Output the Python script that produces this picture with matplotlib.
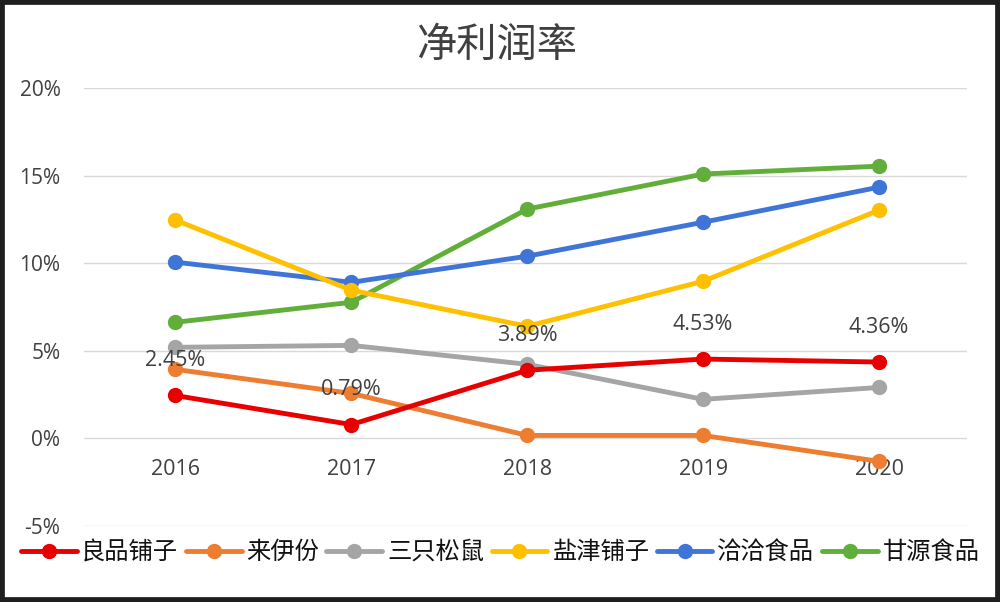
import matplotlib
matplotlib.use("Agg")
import matplotlib.pyplot as plt
from matplotlib.patches import Rectangle
from matplotlib.ticker import FuncFormatter

plt.rcParams['font.family'] = ['Noto Sans CJK SC', 'DejaVu Sans']

years = ['2016', '2017', '2018', '2019', '2020']
series_names = ['良品铺子', '来伊份', '三只松鼠', '盐津铺子', '洽洽食品', '甘源食品']
liangpin = [2.45, 0.79, 3.89, 4.53, 4.36]
laiyifen = [3.94, 2.57, 0.17, 0.17, -1.31]
sanzhi = [5.20, 5.31, 4.23, 2.23, 2.91]
yanjin = [12.46, 8.46, 6.40, 8.97, 13.03]
qiaqia = [10.06, 8.91, 10.40, 12.34, 14.34]
ganyuan = [6.63, 7.77, 13.09, 15.09, 15.54]
colors = ['#E60000', '#ED7D31', '#A5A5A5', '#FFC000', '#3F75D6', '#62AE3A']
label_values = liangpin

fig = plt.figure(figsize=(10, 6.02), dpi=100)
ax = fig.add_axes([0.084, 0.1262, 0.883, 0.7276])

x = list(range(len(years)))
all_series = [liangpin, laiyifen, sanzhi, yanjin, qiaqia, ganyuan]
order = [5, 4, 3, 2, 1, 0]
lines = {}
for i in order:
    ln, = ax.plot(x, all_series[i], color=colors[i], lw=3.5, marker='o', ms=10,
                  label=series_names[i], solid_capstyle='round', zorder=3)
    lines[i] = ln

num_font = ['Open Sans', 'DejaVu Sans']
for xi, v in zip(x, label_values):
    ax.annotate(f'{v:.2f}%', (xi, v), xytext=(0, 25), textcoords='offset points',
                ha='center', va='center', fontsize=15.5, color='#404040', zorder=5,
                family=num_font)

ax.set_ylim(-5, 20)
ax.set_xlim(-0.52, 4.5)
ax.set_yticks([-5, 0, 5, 10, 15, 20])
ax.yaxis.set_major_formatter(FuncFormatter(lambda v, p: f'{v:.0f}%'))
ax.set_xticks(x)
ax.set_xticklabels(years)
ax.grid(axis='y', color='#D9D9D9', lw=1)
ax.set_axisbelow(True)
for s in ['top', 'right', 'left']:
    ax.spines[s].set_visible(False)
ax.spines['bottom'].set_position(('data', 0))
ax.spines['bottom'].set_visible(False)
ax.tick_params(axis='x', length=0, pad=15, labelsize=15.5, labelcolor='#404040')
ax.tick_params(axis='y', length=0, pad=17, labelsize=15, labelcolor='#404040')
for t in ax.get_xticklabels() + ax.get_yticklabels():
    t.set_fontfamily(num_font)

fig.text(0.497, 0.924, '净利润率', ha='center', va='center', fontsize=29, color='#404040')

handles = [lines[i] for i in range(6)]
fig.legend(handles, series_names, loc='center', bbox_to_anchor=(0.5, 0.083), ncol=6,
           frameon=False, fontsize=17.5, handlelength=2.3, handletextpad=0.2, columnspacing=0.3,
           borderpad=0.1, borderaxespad=0.1, labelcolor='#111111')

fig.patches.append(Rectangle((0, 0), 1, 1, transform=fig.transFigure, fill=False,
                             edgecolor='#1e1e1e', linewidth=7))

fig.savefig('out.png', dpi=100, facecolor='white')
